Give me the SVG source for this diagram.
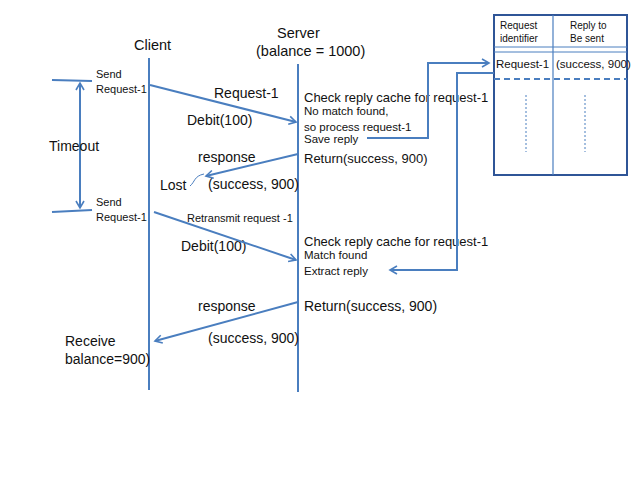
<svg xmlns="http://www.w3.org/2000/svg" width="638" height="478" viewBox="0 0 638 478">
<style>
text{font-family:"Liberation Sans",Arial,sans-serif;fill:#111}
.l{stroke:#4a7ebf;stroke-width:2;fill:none}
.s{font-size:11px}.m{font-size:14px}.b{font-size:14.5px}
</style>
<defs><marker id="a" markerWidth="10" markerHeight="10" refX="8" refY="5" orient="auto" markerUnits="userSpaceOnUse"><path d="M1,1 L8,5 L1,9" fill="none" stroke="#4a7ebf" stroke-width="1.6"/></marker>
<marker id="a2" markerWidth="10" markerHeight="10" refX="8" refY="5" orient="auto-start-reverse" markerUnits="userSpaceOnUse"><path d="M1,1 L8,5 L1,9" fill="none" stroke="#4a7ebf" stroke-width="1.6"/></marker></defs>
<rect width="638" height="478" fill="#fff"/>
<g id="client"><text x="134" y="50" class="b">Client</text><line class="l" x1="149" y1="58" x2="149" y2="390"/></g>
<g id="server"><text x="277" y="38" class="b">Server</text><text x="256" y="56" class="b">(balance = 1000)</text><line class="l" x1="298" y1="64" x2="298" y2="392"/></g>
<g id="table">
<rect x="494" y="15" width="133" height="160" fill="#fff" stroke="#2f5597" stroke-width="2"/>
<line x1="553" y1="15" x2="553" y2="175" stroke="#4a7ebf" stroke-width="1.2"/>
<line x1="494" y1="47" x2="627" y2="47" stroke="#4a7ebf"/><line x1="494" y1="52" x2="627" y2="52" stroke="#4a7ebf"/>
<line x1="494" y1="79" x2="627" y2="79" stroke="#4a7ebf" stroke-width="2" stroke-dasharray="6,4"/>
<line x1="526" y1="95" x2="526" y2="152" stroke="#4a7ebf" stroke-dasharray="2,2"/>
<line x1="585" y1="95" x2="585" y2="152" stroke="#4a7ebf" stroke-dasharray="2,2"/>
<text x="500" y="29" font-size="10">Request</text><text x="500" y="42" font-size="10">identifier</text>
<text x="570" y="29" font-size="10">Reply to</text><text x="570" y="42" font-size="10">Be sent</text>
<text x="496" y="68" font-size="11.5">Request-1</text><text x="556" y="68" font-size="11.5">(success, 900)</text>
</g>
<g id="timeout">
<line class="l" x1="52" y1="80" x2="92" y2="81"/><line class="l" x1="52" y1="212" x2="92" y2="210"/>
<line class="l" x1="80" y1="83" x2="80" y2="208" marker-start="url(#a2)" marker-end="url(#a)"/>
<text x="49" y="151" class="m">Timeout</text>
</g>
<g id="labels">
<text x="96" y="78" class="s">Send</text><text x="96" y="93" class="s">Request-1</text>
<text x="96" y="206" class="s">Send</text><text x="96" y="221" class="s">Request-1</text>
<text x="214" y="98" class="m">Request-1</text><text x="187" y="125" class="m">Debit(100)</text>
<text x="304" y="102" font-size="13">Check reply cache for request-1</text>
<text x="304" y="115" font-size="11.5">No match found,</text>
<text x="304" y="131" font-size="11.5">so process request-1</text>
<text x="304" y="143" font-size="11.5">Save reply</text>
<text x="198" y="162" class="m">response</text><text x="304" y="163" font-size="13">Return(success, 900)</text>
<text x="160" y="190" class="m">Lost</text><text x="208" y="189" class="m">(success, 900)</text>
<text x="187" y="222" class="s">Retransmit request -1</text>
<text x="181" y="251" class="m">Debit(100)</text>
<text x="304" y="246" font-size="13">Check reply cache for request-1</text>
<text x="304" y="259" font-size="11.5">Match found</text><text x="304" y="275" font-size="11.5">Extract reply</text>
<text x="198" y="311" class="m">response</text><text x="304" y="311" class="m">Return(success, 900)</text>
<text x="208" y="343" class="m">(success, 900)</text>
<text x="65" y="346" class="m">Receive</text><text x="65" y="364" class="m">balance=900)</text>
</g>
<g id="connectors">
<line class="l" x1="150" y1="85" x2="296" y2="122" marker-end="url(#a)"/>
<line class="l" x1="298" y1="154" x2="206" y2="176" marker-end="url(#a)"/>
<path d="M190,186 C195,182 194,176 204,174" stroke="#4a7ebf" fill="none"/>
<line class="l" x1="154" y1="212" x2="296" y2="260" marker-end="url(#a)"/>
<line class="l" x1="298" y1="302" x2="155" y2="341" marker-end="url(#a)"/>
<path class="l" d="M367,138 H428 V63 H489" marker-end="url(#a)"/>
<path class="l" d="M494,73 H457 V270 H390" marker-end="url(#a)"/>
</g>
</svg>
